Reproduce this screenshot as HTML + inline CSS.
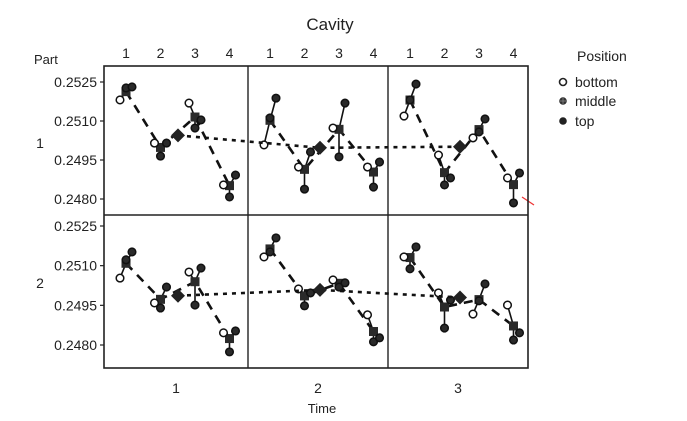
<!DOCTYPE html>
<html><head><meta charset="utf-8"><style>
html,body{margin:0;padding:0;background:#fff;}
svg{display:block;font-family:"Liberation Sans",sans-serif;}
</style></head><body>
<svg id="chart" width="687" height="421" viewBox="0 0 687 421">
<text x="330" y="30" font-size="17" text-anchor="middle" fill="#222">Cavity</text>
<text x="34" y="64" font-size="13" fill="#222">Part</text>
<text x="40" y="148" font-size="14" text-anchor="middle" fill="#222">1</text>
<text x="40" y="288" font-size="14" text-anchor="middle" fill="#222">2</text>
<text x="322" y="413" font-size="13" text-anchor="middle" fill="#222">Time</text>
<line x1="522" y1="197" x2="534" y2="205" stroke="#e33" stroke-width="1.2"/>
<g>
<text x="577" y="61" font-size="14" fill="#222">Position</text>
<g><circle cx="563" cy="82" r="3.5" fill="#fff" stroke="#222" stroke-width="1.6"/><text x="575" y="87" font-size="14" fill="#222">bottom</text></g>
<g><circle cx="563" cy="101" r="3.8" fill="#333"/><line x1="560" y1="101" x2="566" y2="101" stroke="#888" stroke-width="0.8"/><line x1="563" y1="98" x2="563" y2="104" stroke="#888" stroke-width="0.8"/><text x="575" y="106" font-size="14" fill="#222">middle</text></g>
<g><circle cx="563" cy="121" r="3.8" fill="#222"/><text x="575" y="126" font-size="14" fill="#222">top</text></g>
</g>
</svg>
<script>
const cavities = [1, 2, 3, 4];
const times = [1, 2, 3];
const parts = [1, 2];
const yTicks = [0.2525, 0.2510, 0.2495, 0.2480];
const tickLabels = ["0.2525", "0.2510", "0.2495", "0.2480"];
// values[part][time][cavity] = [bottom, middle, top]
const part1Bottom = [[0.25181,0.25015,0.25169,0.24854],[0.25008,0.24923,0.25073,0.24923],[0.25119,0.24969,0.25035,0.24881]];
const part1Middle = [[0.25227,0.24965,0.25073,0.24808],[0.25112,0.24838,0.24962,0.24846],[0.25181,0.24854,0.25058,0.24785]];
const part1Top    = [[0.25231,0.25015,0.25104,0.24892],[0.25188,0.24981,0.25169,0.24942],[0.25242,0.24881,0.25108,0.24900]];
const part2Bottom = [[0.25053,0.24959,0.25076,0.24846],[0.25133,0.25012,0.25046,0.24914],[0.25133,0.24997,0.24917,0.24951]];
const part2Middle = [[0.25122,0.24940,0.24951,0.24774],[0.25152,0.24948,0.25019,0.24812],[0.25088,0.24864,0.24967,0.24819]];
const part2Top    = [[0.25152,0.25019,0.25091,0.24853],[0.25205,0.24997,0.25035,0.24827],[0.25171,0.24970,0.25031,0.24846]];

const svg = document.getElementById('chart');
const NS = 'http://www.w3.org/2000/svg';
const panelX = [104, 248, 388, 528];
const rowY = [[66, 215, 82, 199], [215, 368, 226, 345]]; // top,bottom, y of 0.2525, y of 0.2480
function yScale(row, v) { const r = rowY[row]; return r[2] + (0.2525 - v) / 0.0045 * (r[3] - r[2]); }
function xCav(t, c) { return panelX[t] + 22 + 34.5 * (c - 1); }
function mk(tag, attrs) { const e = document.createElementNS(NS, tag); for (const k in attrs) e.setAttribute(k, attrs[k]); svg.appendChild(e); return e; }

// frame
let f = mk('rect', {x:104, y:66, width:424, height:302, fill:'none', stroke:'#222', 'stroke-width':1.6});


[248, 388].forEach(x => { const l = mk('line', {x1:x, y1:66, x2:x, y2:368, stroke:'#222', 'stroke-width':1.4});
  
   });
let hl = mk('line', {x1:104, y1:215, x2:528, y2:215, stroke:'#222', 'stroke-width':1.4});



// y ticks
parts.forEach((p, r) => {
  yTicks.forEach((v, i) => {
    const y = yScale(r, v);
    const tk = mk('line', {x1:100, y1:y, x2:104, y2:y, stroke:'#222', 'stroke-width':1.2});
    
    
    const tx = mk('text', {x:97, y:y + 5, 'font-size':14, 'text-anchor':'end', fill:'#222'});
    tx.textContent = tickLabels[i];
    
    
  });
});
// cavity labels on top, time labels at bottom
times.forEach((t, ti) => {
  cavities.forEach(c => {
    const tx = mk('text', {x:xCav(ti, c), y:58, 'font-size':14, 'text-anchor':'middle', fill:'#222'});
    tx.textContent = c;
    
    
  });
  const tl = mk('text', {x:(panelX[ti] + panelX[ti + 1]) / 2, y:393, 'font-size':14, 'text-anchor':'middle', fill:'#222'});
  tl.textContent = t;
  
  
});

const data = [[part1Bottom, part1Middle, part1Top], [part2Bottom, part2Middle, part2Top]];
parts.forEach((p, r) => {
  const diamonds = [];
  times.forEach((t, ti) => {
    const means = [];
    cavities.forEach((c, ci) => {
      const b = data[r][0][ti][ci], m = data[r][1][ti][ci], tp = data[r][2][ti][ci];
      means.push([xCav(ti, c), (b + m + tp) / 3]);
    });
    // dashed line between cavity means
    const dp = means.map(q => q[0] + ',' + yScale(r, q[1]).toFixed(1)).join(' ');
    const dl = mk('polyline', {points:dp, fill:'none', stroke:'#111', 'stroke-width':2.6, 'stroke-dasharray':'9,7'});
    
    
    const pm = means.reduce((s, q) => s + q[1], 0) / means.length;
    diamonds.push([(panelX[ti] + panelX[ti + 1]) / 2 + 2, pm]);
    cavities.forEach((c, ci) => {
      const x = xCav(ti, c);
      const b = data[r][0][ti][ci], m = data[r][1][ti][ci], tp = data[r][2][ti][ci];
      const my = yScale(r, means[ci][1]);
      const pts = [[x - 6, b, 'bottom'], [x, m, 'middle'], [x + 6, tp, 'top']];
      pts.forEach(q => { const l = mk('line', {x1:x, y1:my, x2:q[0], y2:yScale(r, q[1]), stroke:'#111', 'stroke-width':1.6});
        
         });
      const sq = mk('rect', {x:x - 4.5, y:my - 4.5, width:9, height:9, fill:'#2a2a2a'});
      
      
      pts.forEach(q => {
        const y = yScale(r, q[1]);
        const ci2 = mk('circle', {cx:q[0], cy:y, r:3.8, fill:q[2] === 'bottom' ? '#fff' : '#2a2a2a', stroke:'#111', 'stroke-width':1.5});
        
        
      });
    });
  });
  const dots = diamonds.map(q => q[0] + ',' + yScale(r, q[1]).toFixed(1)).join(' ');
  const ln = mk('polyline', {points:dots, fill:'none', stroke:'#111', 'stroke-width':2.6, 'stroke-dasharray':'4,5'});
  
  
  diamonds.forEach(q => {
    const y = yScale(r, q[1]);
    const d = mk('polygon', {points:`${q[0]},${y - 7} ${q[0] + 7},${y} ${q[0]},${y + 7} ${q[0] - 7},${y}`, fill:'#222'});
    
    
  });
});
</script>
</body></html>
